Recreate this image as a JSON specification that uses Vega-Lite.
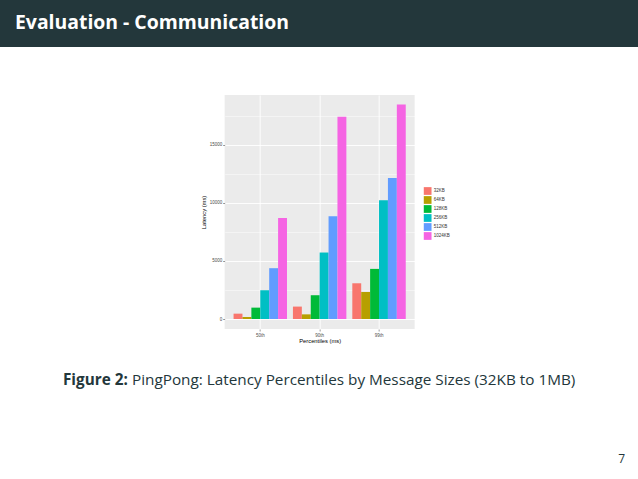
{
  "$schema": "https://vega.github.io/schema/vega-lite/v6.json",
  "padding": {"left": 0, "top": 0, "right": 0, "bottom": 12},
  "background": "white",
  "spacing": 46,
  "center": true,
  "resolve": {"scale": {"color": "independent", "x": "independent", "y": "independent"}, "legend": {"color": "independent"}},
  "config": {
    "view": {"stroke": null},
    "font": "Liberation Sans"
  },
  "title": {
    "text": "7",
    "orient": "bottom",
    "anchor": "end",
    "offset": 65,
    "dx": -13,
    "font": "Open Sans",
    "fontSize": 12,
    "fontWeight": "normal",
    "color": "#23373b"
  },
  "vconcat": [
    {
      "spacing": 0,
      "vconcat": [
        {
          "width": 638,
          "height": 47,
          "view": {"fill": "#23373b", "stroke": null},
          "data": {"values": [{"heading": "Evaluation - Communication"}]},
          "mark": {
            "type": "text",
            "align": "left",
            "baseline": "alphabetic",
            "color": "#ffffff",
            "font": "Open Sans",
            "fontSize": 19.4,
            "fontWeight": "bold"
          },
          "encoding": {
            "text": {"field": "heading"},
            "x": {"value": 15},
            "y": {"value": 29}
          }
        },
        {
          "width": 638,
          "height": 2,
          "data": {
            "values": [
              {"segment": "done", "start": 0, "end": 7},
              {"segment": "remaining", "start": 7, "end": 13}
            ]
          },
          "mark": "bar",
          "encoding": {
            "x": {"field": "start", "type": "quantitative", "scale": {"domain": [0, 13], "nice": false}, "axis": null},
            "x2": {"field": "end"},
            "color": {
              "field": "segment",
              "type": "nominal",
              "scale": {"domain": ["done", "remaining"], "range": ["#eb811b", "#e2e4e5"]},
              "legend": null
            }
          }
        }
      ]
    },
    {
      "spacing": 28,
      "center": true,
      "resolve": {"scale": {"color": "independent"}, "legend": {"color": "independent"}},
      "vconcat": [
        {
          "spacing": 0,
          "resolve": {"scale": {"color": "independent"}, "legend": {"color": "independent"}},
          "hconcat": [
            {
              "width": 11.7,
              "height": 1,
              "data": {"values": []},
              "mark": "text"
            },
            {
              "width": 190,
              "height": 234,
              "view": {"fill": "#ebebeb", "stroke": null},
              "data": {
                "values": [
                  {"percentile": "50th", "size": "32KB", "latency": 460},
                  {"percentile": "50th", "size": "64KB", "latency": 175},
                  {"percentile": "50th", "size": "128KB", "latency": 980},
                  {"percentile": "50th", "size": "256KB", "latency": 2480},
                  {"percentile": "50th", "size": "512KB", "latency": 4380},
                  {"percentile": "50th", "size": "1024KB", "latency": 8700},
                  {"percentile": "90th", "size": "32KB", "latency": 1070},
                  {"percentile": "90th", "size": "64KB", "latency": 400},
                  {"percentile": "90th", "size": "128KB", "latency": 2050},
                  {"percentile": "90th", "size": "256KB", "latency": 5730},
                  {"percentile": "90th", "size": "512KB", "latency": 8850},
                  {"percentile": "90th", "size": "1024KB", "latency": 17430},
                  {"percentile": "99th", "size": "32KB", "latency": 3080},
                  {"percentile": "99th", "size": "64KB", "latency": 2330},
                  {"percentile": "99th", "size": "128KB", "latency": 4320},
                  {"percentile": "99th", "size": "256KB", "latency": 10230},
                  {"percentile": "99th", "size": "512KB", "latency": 12160},
                  {"percentile": "99th", "size": "1024KB", "latency": 18500}
                ]
              },
              "mark": {"type": "bar"},
              "encoding": {
                "x": {
                  "field": "percentile",
                  "type": "nominal",
                  "sort": ["50th", "90th", "99th"],
                  "scale": {"paddingInner": 0.1, "paddingOuter": 0.15},
                  "axis": {
                    "title": "Percentiles (ms)",
                    "labelAngle": 0,
                    "grid": true,
                    "gridColor": "#ffffff",
                    "gridWidth": 0.9,
                    "bandPosition": 0.5,
                    "domain": false,
                    "tickColor": "#333333",
                    "tickSize": 2,
                    "tickWidth": 0.5,
                    "labelFontSize": 4.5,
                    "labelColor": "#4d4d4d",
                    "labelPadding": 1,
                    "titleFontSize": 5.8,
                    "titleFontWeight": "normal",
                    "titleColor": "#000000",
                    "titlePadding": 1
                  }
                },
                "xOffset": {
                  "field": "size",
                  "type": "nominal",
                  "sort": ["32KB", "64KB", "128KB", "256KB", "512KB", "1024KB"],
                  "scale": {"paddingInner": 0, "paddingOuter": 0}
                },
                "y": {
                  "field": "latency",
                  "type": "quantitative",
                  "scale": {"domain": [-862, 19310], "nice": false, "zero": false},
                  "axis": {
                    "title": "Latency (ms)",
                    "values": [0, 2500, 5000, 7500, 10000, 12500, 15000, 17500],
                    "format": "d",
                    "labelExpr": "datum.value % 5000 === 0 ? datum.label : ''",
                    "grid": true,
                    "gridColor": "#ffffff",
                    "gridWidth": {"condition": {"test": "datum.value % 5000 === 0", "value": 0.9}, "value": 0.45},
                    "domain": false,
                    "tickColor": "#333333",
                    "tickSize": {"condition": {"test": "datum.value % 5000 === 0", "value": 2}, "value": 0},
                    "tickWidth": 0.5,
                    "labelFontSize": 4.5,
                    "labelColor": "#4d4d4d",
                    "labelPadding": 1,
                    "titleFontSize": 5.8,
                    "titleFontWeight": "normal",
                    "titleColor": "#000000",
                    "titlePadding": 3
                  }
                },
                "color": {
                  "field": "size",
                  "type": "nominal",
                  "sort": ["32KB", "64KB", "128KB", "256KB", "512KB", "1024KB"],
                  "scale": {
                    "domain": ["32KB", "64KB", "128KB", "256KB", "512KB", "1024KB"],
                    "range": ["#F8766D", "#B79F00", "#00BA38", "#00BFC4", "#619CFF", "#F564E3"]
                  },
                  "legend": {
                    "title": null,
                    "orient": "none",
                    "legendX": 199,
                    "legendY": 92,
                    "padding": 0,
                    "symbolType": "square",
                    "symbolSize": 60,
                    "symbolOpacity": 1,
                    "symbolStrokeWidth": 0,
                    "labelFontSize": 4.5,
                    "labelColor": "#333333",
                    "labelOffset": 2,
                    "rowPadding": 1
                  }
                }
              }
            }
          ]
        },
        {
          "spacing": 4,
          "hconcat": [
            {
              "width": 1,
              "height": 1,
              "data": {"values": []},
              "mark": "text",
              "title": {
                "text": "Figure 2:",
                "anchor": "start",
                "offset": 0,
                "font": "Open Sans",
                "fontSize": 15.3,
                "fontWeight": "bold",
                "color": "#23373b"
              }
            },
            {
              "width": 1,
              "height": 1,
              "data": {"values": []},
              "mark": "text",
              "title": {
                "text": "PingPong: Latency Percentiles by Message Sizes (32KB to 1MB)",
                "anchor": "start",
                "offset": 0,
                "font": "Open Sans",
                "fontSize": 15.3,
                "fontWeight": "normal",
                "color": "#23373b"
              }
            }
          ]
        }
      ]
    }
  ]
}
